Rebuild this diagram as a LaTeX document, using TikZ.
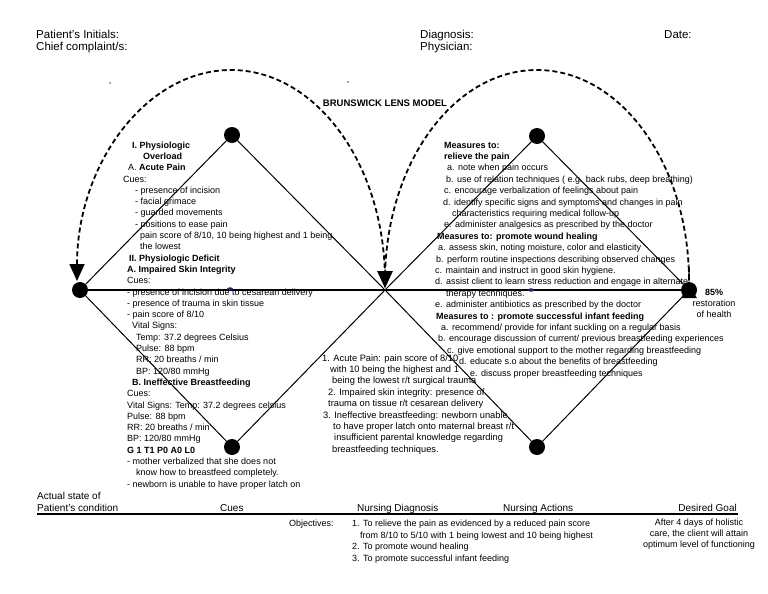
\documentclass[tikz,border=0pt]{standalone}
\usepackage{fontspec}
\setmainfont{Liberation Sans}
\usetikzlibrary{arrows.meta}
\definecolor{markblue}{RGB}{25,35,110}

\begin{document}
\begin{tikzpicture}[x=1pt, y=-1pt,
  lensdot/.style={circle, fill=black, inner sep=0pt, minimum size=16pt},
  lensline/.style={line width=1pt},
  lensarc/.style={line width=1.8pt, dash pattern=on 5pt off 3pt,
    {Triangle[width=15pt,length=17pt]}-{Triangle[width=15pt,length=17pt]}},
  hdr/.style={font=\fontsize{11.5}{13}\selectfont, inner sep=0pt, anchor=base west},
  colhead/.style={font=\fontsize{10}{12}\selectfont, inner sep=0pt, anchor=base west},
  block/.style={font=\fontsize{9}{11.3}\selectfont, inner sep=0pt, anchor=north west, align=left},
]
\useasboundingbox (0,0) rectangle (768,594);

% --- Header ---
\node[hdr] (initials) at (36,39) {Patient's Initials:};
\node[hdr] (complaint) at (36,51) {Chief complaint/s:};
\node[hdr] (diagnosis) at (420,39) {Diagnosis:};
\node[hdr] (physician) at (420,51) {Physician:};
\node[hdr] (date) at (664,39) {Date:};
\fill[black!70] (110,83) circle (0.8pt);
\fill[black!70] (348,82) circle (0.8pt);

\node[font=\bfseries\fontsize{9.5}{11}\selectfont, inner sep=0pt] (title) at (385,103) {BRUNSWICK LENS MODEL};

% --- Lens ---
\node[lensdot] (L) at (80,290) {};
\node[lensdot] (TL) at (232,135) {};
\node[lensdot] (BL) at (232,447) {};
\coordinate (C) at (385,290);
\node[lensdot] (TR) at (537,136) {};
\node[lensdot] (BR) at (537,447) {};
\node[lensdot] (R) at (689,290) {};

\draw[lensline] (L) -- (TL) -- (C) -- (BR) -- (R) -- (TR) -- (C) -- (BL) -- (L);
\draw[line width=1.5pt] (L) -- (R);
\fill[markblue] (230,289) ellipse [x radius=3pt, y radius=1.7pt];
\fill[markblue] (531,290) ellipse [x radius=3pt, y radius=1.7pt];

% --- Feedback arcs ---
\coordinate (Larc) at (77,281);
\coordinate (Carc) at (385,288);
\coordinate (Rarc) at (689,281);
\draw[lensarc] (Larc) arc[start angle=180, end angle=360, x radius=154, y radius=211] -- (Carc);
\draw[lensarc] (Carc) -- ++(0,-7) arc[start angle=180, end angle=360, x radius=152, y radius=211] -- (Rarc);

% --- Cues ---
\node[block] (cues) at (123,140) {\strut\hspace*{9pt}\textbf{I. Physiologic}\\
\hspace*{20pt}\textbf{Overload}\\
\hspace*{5pt}A. \textbf{Acute Pain}\\
Cues:\\
\hspace*{12pt}- presence of incision\\
\hspace*{12pt}- facial grimace\\
\hspace*{12pt}- guarded movements\\
\hspace*{12pt}- positions to ease pain\\
\hspace*{17pt}pain score of 8/10, 10 being highest and 1 being\\
\hspace*{17pt}the lowest\\
\hspace*{6pt}\textbf{II. Physiologic Deficit}\\
\hspace*{4pt}\textbf{A. Impaired Skin Integrity}\\
\hspace*{4pt}Cues:\\
\hspace*{4pt}- presence of incision due to cesarean delivery\\
\hspace*{4pt}- presence of trauma in skin tissue\\
\hspace*{4pt}- pain score of 8/10\\
\hspace*{9pt}Vital Signs:\\
\hspace*{13pt}Temp: 37.2 degrees Celsius\\
\hspace*{13pt}Pulse: 88 bpm\\
\hspace*{13pt}RR: 20 breaths / min\\
\hspace*{13pt}BP: 120/80 mmHg\\
\hspace*{9pt}\textbf{B. Ineffective Breastfeeding}\\
\hspace*{4pt}Cues:\\
\hspace*{4pt}Vital Signs: Temp: 37.2 degrees celsius\\
\hspace*{4pt}Pulse: 88 bpm\\
\hspace*{4pt}RR: 20 breaths / min\\
\hspace*{4pt}BP: 120/80 mmHg\\
\hspace*{4pt}\textbf{G 1 T1 P0 A0 L0}\\
\hspace*{4pt}- mother verbalized that she does not\\
\hspace*{13pt}know how to breastfeed completely.\\
\hspace*{4pt}- newborn is unable to have proper latch on};

% --- Nursing diagnosis ---
\node[block, font=\fontsize{9.3}{11.4}\selectfont] (diag) at (322,353) {\strut 1. Acute Pain: pain score of 8/10\\
\hspace*{8pt}with 10 being the highest and 1\\
\hspace*{10pt}being the lowest r/t surgical trauma\\
\hspace*{6pt}2. Impaired skin integrity: presence of\\
\hspace*{6pt}trauma on tissue r/t cesarean delivery\\
\hspace*{1pt}3. Ineffective breastfeeding: newborn unable\\
\hspace*{11pt}to have proper latch onto maternal breast r/t\\
\hspace*{12pt}insufficient parental knowledge regarding\\
\hspace*{10pt}breastfeeding techniques.};

% --- Nursing actions ---
\node[block, font=\fontsize{9}{11.4}\selectfont] (actions) at (433,140) {\strut\hspace*{11pt}\textbf{Measures to:}\\
\hspace*{11pt}\textbf{relieve the pain}\\
\hspace*{14pt}a. note when pain occurs\\
\hspace*{13pt}b. use of relation techniques ( e.g. back rubs, deep breathing)\\
\hspace*{11pt}c. encourage verbalization of feelings about pain\\
\hspace*{10pt}d. identify specific signs and symptoms and changes in pain\\
\hspace*{19pt}characteristics requiring medical follow-up\\
\hspace*{11pt}e. administer analgesics as prescribed by the doctor\\
\hspace*{4pt}\textbf{Measures to: promote wound healing}\\
\hspace*{5pt}a. assess skin, noting moisture, color and elasticity\\
\hspace*{3pt}b. perform routine inspections describing observed changes\\
\hspace*{2pt}c. maintain and instruct in good skin hygiene.\\
\hspace*{2pt}d. assist client to learn stress reduction and engage in alternate\\
\hspace*{13pt}therapy techniques.\\
\hspace*{2pt}e. administer antibiotics as prescribed by the doctor\\
\hspace*{3pt}\textbf{Measures to : promote successful infant feeding}\\
\hspace*{8pt}a. recommend/ provide for infant suckling on a regular basis\\
\hspace*{5pt}b. encourage discussion of current/ previous breastfeeding experiences\\
\hspace*{14pt}c. give emotional support to the mother regarding breastfeeding\\
\hspace*{26pt}d. educate s.o about the benefits of breastfeeding\\
\hspace*{37pt}e. discuss proper breastfeeding techniques};

% --- Desired goal ---
\node[block, anchor=north, align=center] (goal) at (714,287) {\strut\textbf{85\%}\\restoration\\of health};

% --- Bottom row ---
\node[colhead] (actual) at (37,499) {Actual state of};
\node[colhead] (pcond) at (37,511) {Patient's condition};
\node[colhead] (hcues) at (220,511) {Cues};
\node[colhead] (hdiag) at (357,511) {Nursing Diagnosis};
\node[colhead] (hact) at (503,511) {Nursing Actions};
\node[colhead, anchor=base east] (hgoal) at (737,511) {Desired Goal};
\draw[line width=1.2pt] (37,514) -- (738,514);

\node[block, anchor=base west] (objlabel) at (289,526) {Objectives:};
\node[block, font=\fontsize{9}{11.7}\selectfont] (objectives) at (352,518) {\strut 1. To relieve the pain as evidenced by a reduced pain score\\
\hspace*{8pt}from 8/10 to 5/10 with 1 being lowest and 10 being highest\\
2. To promote wound healing\\
3. To promote successful infant feeding};
\node[block, anchor=north, align=center] (goaltext) at (699,517) {\strut After 4 days of holistic\\care, the client will attain\\optimum level of functioning};

\end{tikzpicture}
\end{document}
